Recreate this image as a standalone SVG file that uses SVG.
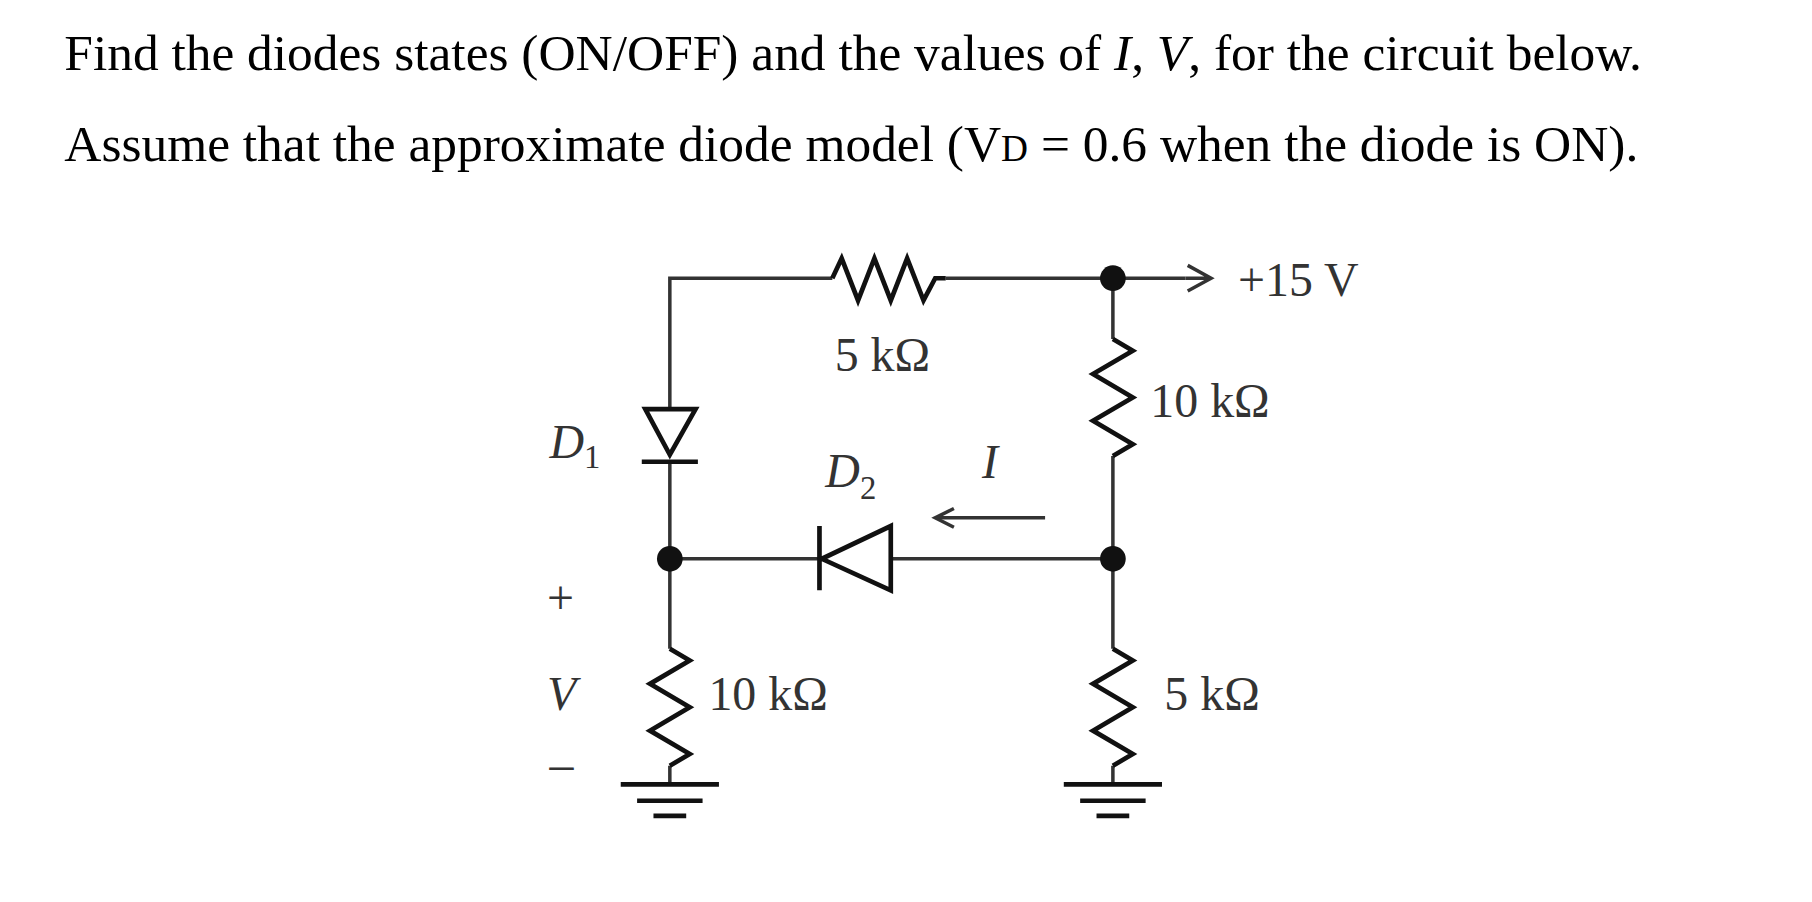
<svg xmlns="http://www.w3.org/2000/svg" width="1812" height="902" viewBox="0 0 1812 902">
<style>
.w{fill:none;stroke:#333;stroke-width:3}
.r{fill:none;stroke:#111;stroke-width:4;stroke-linejoin:miter}
.t{font-family:"Liberation Serif",serif;fill:#000}
.c{font-family:"Liberation Serif",serif;fill:#333;font-size:41px}
.i{font-style:italic}
</style>
<rect width="1812" height="902" fill="#fff"/>
<g transform="scale(1.169)">
<text class="t" x="55" y="60" font-size="44">Find the diodes states (ON/OFF) and the values of <tspan font-style="italic">I</tspan>, <tspan font-style="italic">V</tspan>, for the circuit below.</text>
<text class="t" x="55" y="138" font-size="44">Assume that the approximate diode model (V<tspan font-size="32">D</tspan> = 0.6 when the diode is ON).</text>
<g transform="translate(-6,-5)">
<g id="connectors">
<path class="w" d="M579 355V243H718M815 243H1020M958 243V295M958 395V483M579 400V560M579 483H708M768 483H958M958 483V560M579 660V675M958 660V675M900 448H808"/>
<path class="w" d="M822 440L806 448L822 456"/>
<path class="w" d="M1020 243H1040M1022 232L1042 243L1022 254"/>
</g>
<g id="r1"><path class="r" d="M718 243L726 226L740 262L754 226L768 262L782 226L796 262L806 243L815 243"/><text class="c" x="720" y="322">5 kΩ</text></g>
<g id="r2"><path class="r" d="M958 295L975 305L941 325L975 345L941 365L975 385L958 395"/><text class="c" x="990" y="362">10 kΩ</text></g>
<g id="r3"><path class="r" d="M579 560L596 570L562 590L596 610L562 630L596 650L579 660"/><text class="c" x="612" y="612">10 kΩ</text></g>
<g id="r4"><path class="r" d="M958 560L975 570L941 590L975 610L941 630L975 650L958 660"/><text class="c" x="1002" y="612">5 kΩ</text></g>
<g id="d1"><path class="r" d="M558 355H601L579 394Z M555 400H603"/><text class="c i" x="476" y="397">D<tspan font-size="28" font-style="normal" dy="8">1</tspan></text></g>
<g id="d2"><path class="r" d="M768 455V510L709 483Z M707 455V510"/><text class="c i" x="712" y="422">D<tspan font-size="28" font-style="normal" dy="10">2</tspan></text></g>
<g id="n1"><circle cx="958" cy="243" r="11" fill="#111"/></g>
<g id="n2"><circle cx="579" cy="483" r="11" fill="#111"/></g>
<g id="n3"><circle cx="958" cy="483" r="11" fill="#111"/></g>
<g id="g1"><path class="r" d="M537 676H621M551 690H607M565 703H593"/></g>
<g id="g2"><path class="r" d="M916 676H1000M930 690H986M944 703H972"/></g>
<g id="labels">
<text class="c" x="1065" y="258">+15 V</text>
<text class="c i" x="846" y="414">I</text>
<text class="c" x="474" y="530">+</text>
<text class="c i" x="474" y="612">V</text>
<text class="c" x="476" y="672">–</text>
</g>
</g>
</g>
</svg>
